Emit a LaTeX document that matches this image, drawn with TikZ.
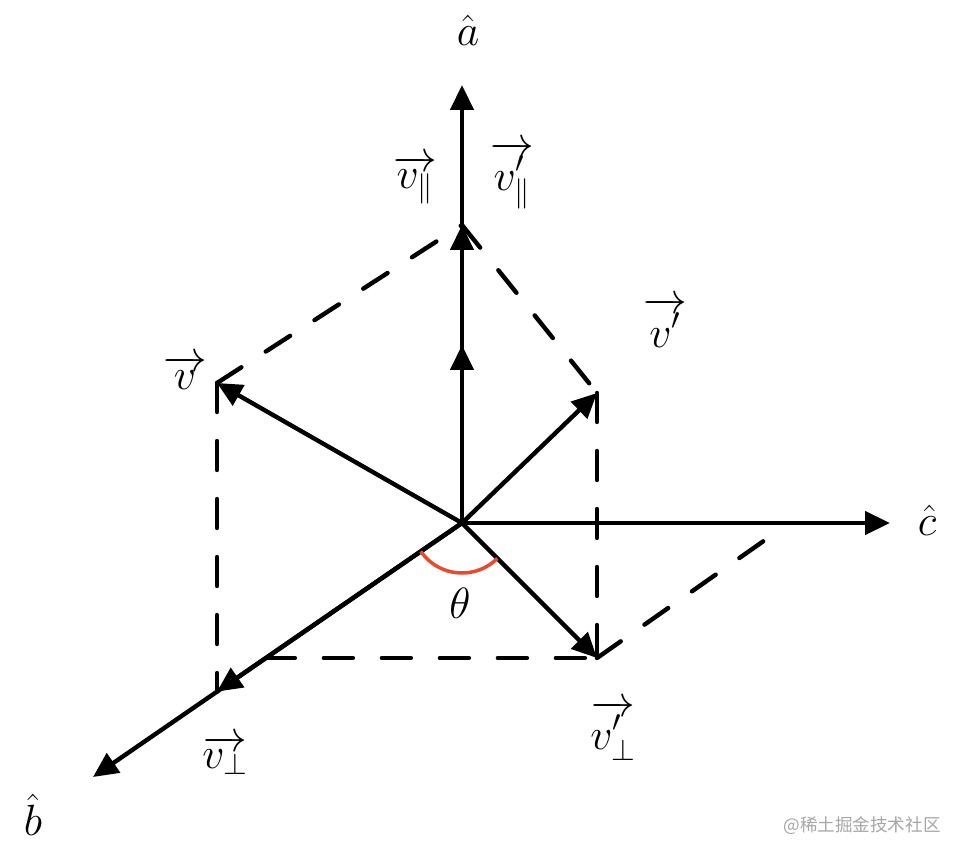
\documentclass[tikz,border=0pt]{standalone}
\usepackage{fontspec}
\usepackage{tkz-euclide}
\usetikzlibrary{arrows.meta}
\newfontfamily\cjk{Noto Sans CJK SC}
\definecolor{arcred}{RGB}{234,74,44}
\tikzset{vec/.style={line width=2.5pt,-{Triangle[length=0.5cm,width=0.46cm]}},
  dashline/.style={line width=2.5pt,dash pattern=on 0.58cm off 0.58cm},
  lbl/.style={font=\fontsize{25}{30}\selectfont}}

\begin{document}
\begin{tikzpicture}
 \useasboundingbox (0,0) rectangle (19.32,17.2);
 \tkzDefPoints{9.24/6.74/O,9.24/15.5/A,1.86/1.66/B,17.8/6.74/C}
 \tkzDefPoints{4.34/9.54/V,11.94/9.34/W,9.24/12.7/P,9.24/10.3/Q}
 \tkzDefPoints{11.94/4.04/S,15.5/6.54/T,0/4.04/H,4.34/0/X}
 \tkzInterLL(O,B)(V,X) \tkzGetPoint{R} % v_perp on the b axis
 \tkzInterLL(O,B)(S,H) \tkzGetPoint{E}
 \tkzDrawSegments[dashline](V,P P,W V,R W,S E,S S,T)
 \tkzDrawSegments[vec](O,A O,B O,C O,V O,W O,P O,Q O,R O,S)
 \tkzMarkAngle[size=1,arc=l,color=arcred,line width=2pt](B,O,S)
 \node[lbl] (la) at (9.36,16.6) {$\hat{a}$};
 \node[lbl] (lb) at (0.66,0.9) {$\hat{b}$};
 \node[lbl] (lc) at (18.54,6.8) {$\hat{c}$};
 \node[lbl] (lv) at (3.7,9.75) {$\overrightarrow{v}$};
 \node[lbl] (lw) at (13.3,10.75) {$\overrightarrow{v'}$};
 \node[lbl] (lp) at (8.3,13.6) {$\overrightarrow{v_\parallel}$};
 \node[lbl] (lq) at (10.24,13.7) {$\overrightarrow{v'_\parallel}$};
 \node[lbl] (lr) at (4.5,2.1) {$\overrightarrow{v_\perp}$};
 \node[lbl] (ls) at (12.26,2.6) {$\overrightarrow{v'_\perp}$};
 \node[lbl] (th) at (9.2,5.14) {$\theta$};
 \node[font=\cjk\fontsize{10}{12}\selectfont,text=black!35] (mark) at (17.24,0.68) {@稀土掘金技术社区};
\end{tikzpicture}
\end{document}
